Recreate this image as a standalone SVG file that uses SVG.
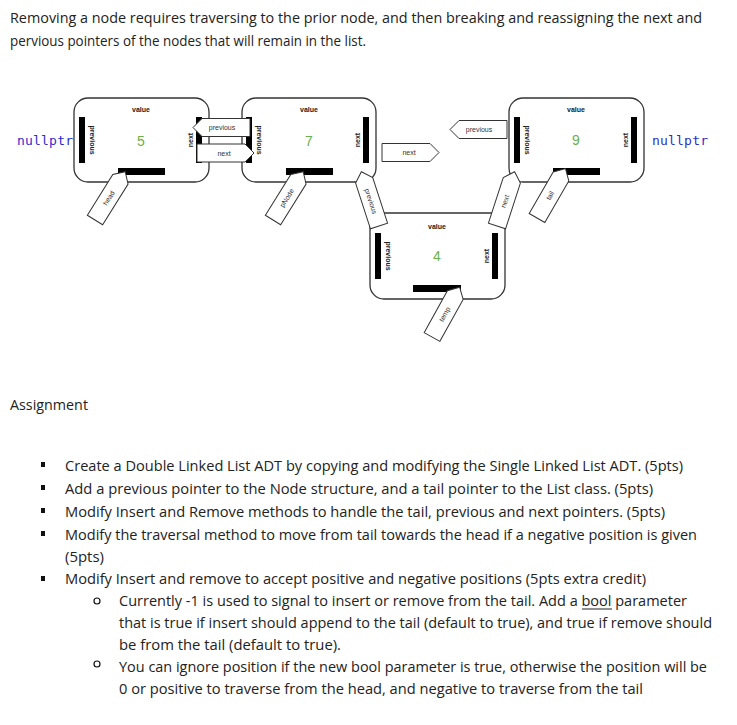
<svg xmlns="http://www.w3.org/2000/svg" width="737" height="725" viewBox="0 0 737 725">
<style>
.t{font-family:"Open Sans","Liberation Sans",sans-serif;font-size:15px;fill:#222}
.node{fill:#fff;stroke:#333;stroke-width:1.3}
.bar{fill:#000}
.lbl{font-family:"Liberation Sans",sans-serif;font-size:7px;font-weight:bold;fill:#222;text-anchor:middle}
.ptr{fill:#fff;stroke:#333;stroke-width:1}
.pl{font-family:"Liberation Sans",sans-serif;font-size:7px;fill:#333;text-anchor:middle}
.num{font-family:"Liberation Sans",sans-serif;font-size:14px;fill:#6ab04c;text-anchor:middle}
.np{font-family:"DejaVu Sans Mono",monospace;font-size:13px;fill:#2b2bd0}
</style>
<defs>
<polygon id="pt" class="ptr" points="0,-9 48,-9 57,0 48,9 0,9"/>
</defs>
<rect width="737" height="725" fill="#fff"/>
<text class="t" x="10" y="23" textLength="692" lengthAdjust="spacingAndGlyphs">Removing a node requires traversing to the prior node, and then breaking and reassigning the next and</text>
<text class="t" x="10" y="46" textLength="356" lengthAdjust="spacingAndGlyphs">pervious pointers of the nodes that will remain in the list.</text>
<text class="np" x="17" y="145" textLength="56">nullptr</text>
<text class="np" x="652" y="145" textLength="56">nullptr</text>
<g id="node5">
<rect class="node" x="74" y="98" width="135" height="84" rx="14"/>
<text class="lbl" x="141" y="112">value</text>
<rect class="bar" x="79" y="117" width="6" height="46"/>
<rect class="bar" x="196" y="117" width="6" height="46"/>
<rect class="bar" x="118" y="168" width="47" height="7"/>
<text class="lbl" transform="translate(90,140) rotate(90)">previous</text>
<text class="lbl" transform="translate(193,140) rotate(-90)">next</text>
<text class="num" x="141" y="146">5</text>
</g>
<g id="node7">
<rect class="node" x="242" y="98" width="134" height="84" rx="14"/>
<text class="lbl" x="309" y="112">value</text>
<rect class="bar" x="246" y="117" width="6" height="46"/>
<rect class="bar" x="363" y="117" width="6" height="46"/>
<rect class="bar" x="286" y="168" width="47" height="7"/>
<text class="lbl" transform="translate(257,140) rotate(90)">previous</text>
<text class="lbl" transform="translate(360,140) rotate(-90)">next</text>
<text class="num" x="309" y="146">7</text>
</g>
<g id="node9">
<rect class="node" x="509" y="98" width="135" height="84" rx="14"/>
<text class="lbl" x="576" y="112">value</text>
<rect class="bar" x="514" y="117" width="6" height="46"/>
<rect class="bar" x="631" y="117" width="6" height="46"/>
<rect class="bar" x="553" y="168" width="47" height="7"/>
<text class="lbl" transform="translate(525,140) rotate(90)">previous</text>
<text class="lbl" transform="translate(628,140) rotate(-90)">next</text>
<text class="num" x="576" y="145">9</text>
</g>
<g id="node4">
<rect class="node" x="370" y="213" width="135" height="86" rx="14"/>
<text class="lbl" x="437" y="229">value</text>
<rect class="bar" x="375" y="233" width="6" height="46"/>
<rect class="bar" x="492" y="233" width="6" height="46"/>
<rect class="bar" x="413" y="285" width="48" height="7"/>
<text class="lbl" transform="translate(386,256) rotate(90)">previous</text>
<text class="lbl" transform="translate(489,256) rotate(-90)">next</text>
<text class="num" x="437" y="261">4</text>
</g>
<g id="connectors">
<g transform="translate(250,127.5) rotate(180)"><use href="#pt"/><text class="pl" x="28" y="2.5" transform="rotate(180 28 0)">previous</text></g>
<g transform="translate(197,153)"><use href="#pt"/><text class="pl" x="27" y="2.5">next</text></g>
<g transform="translate(507,129.5) rotate(180)"><use href="#pt"/><text class="pl" x="28" y="2.5" transform="rotate(180 28 0)">previous</text></g>
<g transform="translate(382,152.5)"><use href="#pt"/><text class="pl" x="27" y="2.5">next</text></g>
<g transform="translate(95,220) rotate(-58)"><use href="#pt"/><text class="pl" x="26" y="2.5">head</text></g>
<g transform="translate(273,220) rotate(-58)"><use href="#pt"/><text class="pl" x="26" y="2.5">pNode</text></g>
<g transform="translate(379,226) rotate(-108)"><use href="#pt"/><text class="pl" x="26" y="2.5" transform="rotate(180 26 0)">previous</text></g>
<g transform="translate(497,226) rotate(-72)"><use href="#pt"/><text class="pl" x="26" y="2.5">next</text></g>
<g transform="translate(537,218) rotate(-60)"><use href="#pt"/><text class="pl" x="26" y="2.5">tail</text></g>
<g transform="translate(432,337) rotate(-61)"><use href="#pt"/><text class="pl" x="26" y="2.5">temp</text></g>
</g>
<text class="t" x="10" y="410" textLength="78" lengthAdjust="spacingAndGlyphs">Assignment</text>
<g fill="#111">
<rect x="41" y="462" width="4" height="5"/><rect x="41" y="485" width="4" height="5"/><rect x="41" y="508" width="4" height="5"/><rect x="41" y="531" width="4" height="5"/><rect x="41" y="576" width="4" height="5"/>
</g>
<g fill="none" stroke="#111" stroke-width="1.2"><circle cx="97" cy="601" r="3"/><circle cx="97" cy="664" r="3"/></g>
<text class="t" x="65" y="471" textLength="618" lengthAdjust="spacingAndGlyphs">Create a Double Linked List ADT by copying and modifying the Single Linked List ADT. (5pts)</text>
<text class="t" x="65" y="494" textLength="588" lengthAdjust="spacingAndGlyphs">Add a previous pointer to the Node structure, and a tail pointer to the List class.  (5pts)</text>
<text class="t" x="65" y="517" textLength="600" lengthAdjust="spacingAndGlyphs">Modify Insert and Remove methods to handle the tail, previous and next pointers. (5pts)</text>
<text class="t" x="65" y="540" textLength="632" lengthAdjust="spacingAndGlyphs">Modify the traversal method to move from tail towards the head if a negative position is given</text>
<text class="t" x="65" y="562" textLength="39" lengthAdjust="spacingAndGlyphs">(5pts)</text>
<text class="t" x="65" y="584" textLength="581" lengthAdjust="spacingAndGlyphs">Modify Insert and remove to accept positive and negative positions (5pts extra credit)</text>
<text class="t" x="119" y="606" textLength="568" lengthAdjust="spacingAndGlyphs">Currently -1 is used to signal to insert or remove from the tail.  Add a bool parameter</text>
<line x1="582" y1="609" x2="612" y2="609" stroke="#222" stroke-width="1"/>
<text class="t" x="119" y="628" textLength="593" lengthAdjust="spacingAndGlyphs">that is true if insert should append to the tail (default to true), and true if remove should</text>
<text class="t" x="119" y="650" textLength="222" lengthAdjust="spacingAndGlyphs">be from the tail (default to true).</text>
<text class="t" x="119" y="672" textLength="588" lengthAdjust="spacingAndGlyphs">You can ignore position if the new bool parameter is true, otherwise the position will be</text>
<text class="t" x="119" y="694" textLength="524" lengthAdjust="spacingAndGlyphs">0 or positive to traverse from the head, and negative to traverse from the tail</text>
</svg>
